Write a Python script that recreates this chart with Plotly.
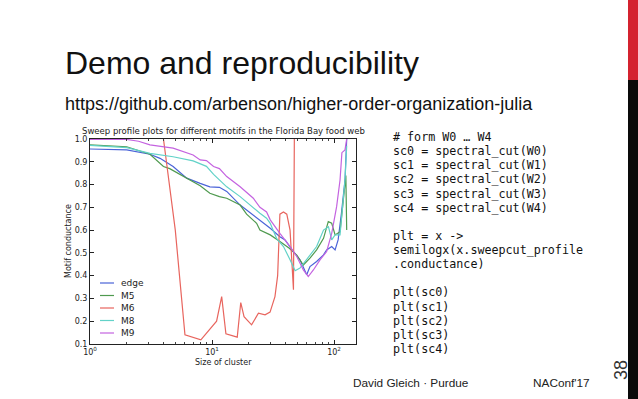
import plotly.graph_objects as go

# ---------------- data ----------------
series_names = ["edge", "M5", "M6", "M8", "M9"]
series_colors = ["#4a63d8", "#4f9a4f", "#e8655e", "#62d2c8", "#c463e0"]

edge_x = [1, 2, 3.1, 3.75, 4.8, 6.2, 8, 9.6, 11.5, 13.2, 17, 21.8, 24.7, 28, 30, 36, 39.7,
          46.4, 52.6, 59.7, 63.5, 72, 82, 87, 95.7, 102, 108, 115, 119, 123, 127]
edge_y = [0.956, 0.952, 0.933, 0.915, 0.879, 0.828, 0.805, 0.79, 0.788, 0.77, 0.71, 0.667,
          0.645, 0.623, 0.608, 0.571, 0.557, 0.506, 0.47, 0.404, 0.44, 0.462, 0.491, 0.513,
          0.528, 0.513, 0.557, 0.674, 0.75, 0.82, 1.0]

m5_x = [1, 2, 3.1, 4, 4.5, 6.2, 8, 9.6, 11.5, 13.2, 17, 19.2, 23.2, 24.7, 30, 36, 43, 49.5,
        56, 63.5, 72, 82, 89.7, 95.7, 102, 112, 119, 123, 125, 127]
m5_y = [0.974, 0.966, 0.933, 0.879, 0.87, 0.83, 0.795, 0.762, 0.747, 0.74, 0.71, 0.67, 0.63,
        0.60, 0.579, 0.55, 0.52, 0.49, 0.447, 0.477, 0.513, 0.564, 0.637, 0.63, 0.579, 0.593,
        0.73, 0.8, 0.84, 0.60]

m6_x = [3, 4, 5, 6, 8.1, 10.9, 12, 13, 16.1, 17.2, 18.3, 21.1, 24, 27.2, 29.9, 32.8, 34.5,
        36, 38.5, 41, 43.6, 46.5, 48]
m6_y = [1.4, 1.0, 0.60, 0.14, 0.118, 0.20, 0.308, 0.145, 0.13, 0.282, 0.22, 0.184, 0.235,
        0.228, 0.24, 0.308, 0.40, 0.67, 0.68, 0.67, 0.60, 0.338, 1.6]

m8_x = [1, 2, 3.1, 4.8, 7, 9, 10.3, 13.2, 17, 21.8, 24.7, 28, 30, 33.8, 38.5, 43.6, 48, 52.6,
        59.7, 72, 82, 90, 95.7, 102, 112, 120, 123, 127]
m8_y = [0.972, 0.962, 0.937, 0.922, 0.904, 0.88, 0.845, 0.79, 0.747, 0.696, 0.674, 0.652,
        0.63, 0.564, 0.528, 0.47, 0.422, 0.433, 0.47, 0.528, 0.60, 0.615, 0.557, 0.579, 0.579,
        0.75, 0.82, 0.97]

m9_x = [1, 2, 2.5, 3.1, 4.8, 7, 8, 9, 10.3, 11.5, 13.2, 17, 21.8, 24.7, 28, 30, 36, 43.6,
        49.5, 56, 61.5, 67.7, 77, 87, 95.7, 105, 112, 116, 123, 127]
m9_y = [0.998, 0.998, 0.99, 0.974, 0.96, 0.93, 0.908, 0.905, 0.879, 0.87, 0.835, 0.79, 0.74,
        0.70, 0.68, 0.645, 0.586, 0.528, 0.484, 0.425, 0.396, 0.425, 0.47, 0.506, 0.586, 0.703,
        0.82, 0.94, 0.952, 1.0]

series_x = [edge_x, m5_x, m6_x, m8_x, m9_x]
series_y = [edge_y, m5_y, m6_y, m8_y, m9_y]

y_ticks = [0.1, 0.2, 0.3, 0.4, 0.5, 0.6, 0.7, 0.8, 0.9, 1.0]
x_ticks = [1, 10, 100]
x_ticklabels = ["10<sup>0</sup>", "10<sup>1</sup>", "10<sup>2</sup>"]

slide_title = "Demo and reproducibility"
slide_url = "https://github.com/arbenson/higher-order-organization-julia"
chart_title = "Sweep profile plots for different motifs in the Florida Bay food web"
code_lines = [
    "# form W0 … W4",
    "sc0 = spectral_cut(W0)",
    "sc1 = spectral_cut(W1)",
    "sc2 = spectral_cut(W2)",
    "sc3 = spectral_cut(W3)",
    "sc4 = spectral_cut(W4)",
    "",
    "plt = x ->",
    "semilogx(x.sweepcut_profile",
    ".conductance)",
    "",
    "plt(sc0)",
    "plt(sc1)",
    "plt(sc2)",
    "plt(sc3)",
    "plt(sc4)",
]
footer_left = "David Gleich · Purdue"
footer_right = "NAConf'17"
page_number = "38"

# ---------------- figure ----------------
W, H = 638, 399
fig = go.Figure()
for name, color, xs, ys in zip(series_names, series_colors, series_x, series_y):
    fig.add_trace(go.Scatter(x=xs, y=ys, mode="lines", name=name,
                             line=dict(color=color, width=1.2), showlegend=False))

def px(x):
    return x / W

def py(y):
    return 1 - y / H

axis_font = dict(family="DejaVu Sans", size=8, color="#222")
fig.update_layout(
    template="none", autosize=False,
    width=W, height=H, margin=dict(l=0, r=0, t=0, b=0, pad=0, autoexpand=False),
    paper_bgcolor="white", plot_bgcolor="white",
    font=dict(family="DejaVu Sans", color="#222"),
    xaxis=dict(type="log", range=[0, 2.18], domain=[px(90), px(356)], automargin=False,
               tickvals=x_ticks, ticktext=x_ticklabels, ticks="inside", ticklen=4,
               tickcolor="#222", showline=True, linecolor="#222", linewidth=1,
               mirror="ticks", showgrid=False, zeroline=False, tickfont=axis_font,
               minor=dict(ticks="inside", ticklen=2, tickcolor="#444", dtick="D1",
                          showgrid=False)),
    yaxis=dict(range=[0.1, 1.0], domain=[py(344), py(139)], tickvals=y_ticks, automargin=False,
               tickformat=".1f", ticks="inside", ticklen=4, tickcolor="#222",
               showline=True, linecolor="#222", linewidth=1, mirror="ticks",
               showgrid=False, zeroline=False, tickfont=axis_font),
    showlegend=False,
)

ann = []
shapes = []

# right-edge slide band (dark lower part) as a filled annotation box
ann.append(dict(text=" ", x=1, y=0, xanchor="right", yanchor="bottom", width=10,
                height=H - 80, bgcolor="#0a0a0a", borderpad=0, borderwidth=0,
                font=dict(size=1, color="#0a0a0a")))

ann.append(dict(text=slide_title, x=px(63), y=py(63), xanchor="left", yanchor="middle",
                font=dict(family="Liberation Sans", size=32, color="#111")))
ann.append(dict(text=slide_url, x=px(63), y=py(104), xanchor="left", yanchor="middle",
                font=dict(family="Liberation Sans", size=18, color="#111")))
ann.append(dict(text=chart_title, x=px(223), y=py(131), xanchor="center", yanchor="middle",
                font=dict(family="DejaVu Sans", size=8.5, color="#222")))
ann.append(dict(text="Motif conductance", x=px(68), y=py(241), xanchor="center",
                yanchor="middle", textangle=-90, font=dict(family="DejaVu Sans", size=8, color="#222")))
ann.append(dict(text="Size of cluster", x=px(223), y=py(362), xanchor="center",
                yanchor="middle", font=dict(family="DejaVu Sans", size=8, color="#222")))

# legend (manual, matplotlib-like compact spacing)
leg_top, leg_step = 283, 12.5
for i, (name, color) in enumerate(zip(series_names, series_colors)):
    yy = leg_top + i * leg_step
    shapes.append(dict(type="line", xref="paper", yref="paper", x0=px(100), x1=px(114),
                       y0=py(yy), y1=py(yy), line=dict(color=color, width=1.2)))
    ann.append(dict(text=name, x=px(119), y=py(yy), xanchor="left", yanchor="middle",
                    font=dict(family="DejaVu Sans", size=9, color="#222")))

line_h = 14.13
for i, line in enumerate(code_lines):
    if line:
        ann.append(dict(text=line, x=px(391), y=py(137 + i * line_h), xanchor="left",
                        yanchor="middle",
                        font=dict(family="DejaVu Sans Mono", size=11.7, color="#111")))
ann.append(dict(text=footer_left, x=px(351), y=py(383), xanchor="left", yanchor="middle",
                font=dict(family="Liberation Sans", size=11.8, color="#222")))
ann.append(dict(text=footer_right, x=px(531), y=py(383), xanchor="left", yanchor="middle",
                font=dict(family="Liberation Sans", size=11.8, color="#222")))
ann.append(dict(text=page_number, x=px(621), y=py(370), xanchor="center", yanchor="middle",
                textangle=-90, font=dict(family="Liberation Sans", size=18, color="#333")))
for a in ann:
    a.update(xref="paper", yref="paper", showarrow=False)

shapes.append(dict(type="path", xref="paper", yref="paper",
                   path=f"M {px(628)},0 L 1,0 L 1,{py(80)} L {px(628)},{py(80)} Z",
                   fillcolor="#0a0a0a", opacity=1, line=dict(width=0), layer="above"))
shapes.append(dict(type="rect", xref="paper", yref="paper", x0=px(628), x1=1, y0=py(80), y1=1,
                   fillcolor="#d4232f", opacity=1, line=dict(width=0), layer="above"))
fig.update_layout(annotations=ann, shapes=shapes)

fig.write_html(
    "out.html",
    config={"displayModeBar": False},
    post_script=("document.documentElement.style.overflow='hidden';"
                 "document.body.style.overflow='hidden';"
                 "document.body.style.margin='0';document.body.style.padding='0';"),
)
